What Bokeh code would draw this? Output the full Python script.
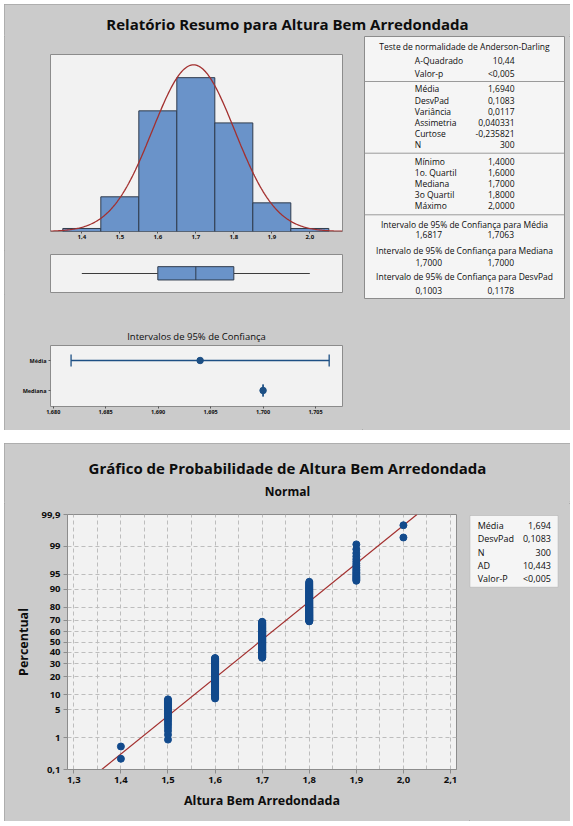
import math
from statistics import NormalDist
import numpy as np
from bokeh.plotting import figure
from bokeh.layouts import column, row
from bokeh.models import (Range1d, FixedTicker, CustomJSTickFormatter, Span,
                          ColumnDataSource, Whisker, TeeHead, Spacer, Title, BoxAnnotation)
from bokeh.core.properties import value
from bokeh.embed import file_html
from bokeh.resources import INLINE

# ---------------- data ----------------
values = [1.4, 1.5, 1.6, 1.7, 1.8, 1.9, 2.0]
counts = [2, 23, 80, 102, 72, 19, 2]
bin_width = 0.1
mean = 1.694
stdev = 0.1083
box_stats = [1.4, 1.6, 1.7, 1.8, 2.0]  # min, Q1, median, Q3, max
ci_names = ["Média", "Mediana"]
ci_centers = [1.6940, 1.7000]
ci_lower = [1.6817, 1.7000]
ci_upper = [1.7063, 1.7000]

hist_ticks = [1.4, 1.5, 1.6, 1.7, 1.8, 1.9, 2.0]
ci_ticks = [1.680, 1.685, 1.690, 1.695, 1.700, 1.705]
prob_x_ticks = [1.3, 1.4, 1.5, 1.6, 1.7, 1.8, 1.9, 2.0, 2.1]
prob_pct_ticks = [0.1, 1, 5, 10, 20, 30, 40, 50, 60, 70, 80, 90, 95, 99, 99.9]
prob_pct_labels = ["0,1", "1", "5", "10", "20", "30", "40", "50", "60", "70",
                   "80", "90", "95", "99", "99,9"]

title_top = "Relatório Resumo para Altura Bem Arredondada"
title_bottom = "Gráfico de Probabilidade de Altura Bem Arredondada"
subtitle_bottom = "Normal"
ci_title = "Intervalos de 95% de Confiança"
x_label = "Altura Bem Arredondada"
y_label = "Percentual"

ad_header = "Teste de normalidade de Anderson-Darling"
ad_labels = ["A-Quadrado", "Valor-p"]
ad_values = ["10,44", "<0,005"]
desc_labels = ["Média", "DesvPad", "Variância", "Assimetria", "Curtose", "N"]
desc_values = ["1,6940", "0,1083", "0,0117", "0,040331", "-0,235821", "300"]
quart_labels = ["Mínimo", "1o. Quartil", "Mediana", "3o Quartil", "Máximo"]
quart_values = ["1,4000", "1,6000", "1,7000", "1,8000", "2,0000"]
ci_headers = ["Intervalo de 95% de Confiança para Média",
              "Intervalo de 95% de Confiança para Mediana",
              "Intervalo de 95% de Confiança para DesvPad"]
ci_low_txt = ["1,6817", "1,7000", "0,1003"]
ci_high_txt = ["1,7063", "1,7000", "0,1178"]

legend_labels = ["Média", "DesvPad", "N", "AD", "Valor-P"]
legend_values = ["1,694", "0,1083", "300", "10,443", "<0,005"]

# ---------------- styles ----------------
FONT = "Open Sans"
PANEL = "#cbcbcb"
FRAME_BG = "#f2f2f2"
TABLE_BG = "#f5f5f5"
OUTLINE = "#8c8c8c"
BAR = "#6a93c9"
BAR_LINE = "#2f3b4c"
CURVE = "#a3302f"
CI_COLOR = "#1d4f84"
DOT = "#124a8c"
TXT = "#0d0d0d"
W = 566


def fig(w, h, xr, yr, l=0, r=0, t=0, b=0, axes=False, bg=FRAME_BG, outline=OUTLINE):
    kw = {}
    if not axes:
        kw = dict(x_axis_location=None, y_axis_location=None)
    p = figure(width=w, height=h, x_range=xr, y_range=yr, toolbar_location=None,
               output_backend="svg", title=None, title_location=None,
               min_border_left=l, min_border_right=r,
               min_border_top=t, min_border_bottom=b, **kw)
    p.border_fill_color = PANEL
    p.background_fill_color = bg
    p.outline_line_color = outline
    p.xgrid.visible = False
    p.ygrid.visible = False
    return p


def style_axis(ax, size, bold=False):
    ax.major_label_text_font = FONT
    ax.major_label_text_font_size = size
    ax.major_label_text_font_style = "bold" if bold else "normal"
    ax.major_label_text_color = TXT
    ax.axis_line_color = None
    ax.major_tick_line_color = "#555555"
    ax.minor_tick_line_color = None
    ax.major_tick_in = 0


def heading(text, size, standoff):
    return Title(text=text, align="center", text_font=FONT, text_font_size=size,
                 text_font_style="bold", text_color=TXT, standoff=standoff)


comma1 = CustomJSTickFormatter(code="return tick.toFixed(1).replace('.', ',')")
PANEL_STYLE = {"background-color": PANEL, "outline": "1px solid #a4a4a4",
               "outline-offset": "-1px"}

# ---------------- top panel ----------------
t1 = fig(W, 32, Range1d(0, 1), Range1d(0, 1), t=30, bg=PANEL, outline=None)
t1.add_layout(heading(title_top, "15px", 1), "above")

# histogram
hx0, hx1 = 1.3176, 2.086
peak = sum(counts) * bin_width / (stdev * math.sqrt(2 * math.pi))
hist = fig(358, 214, Range1d(hx0, hx1), Range1d(0, peak * 1.062), l=46, r=20, t=18, b=19, axes=True)
hist.yaxis.visible = False
lefts = [v - bin_width / 2 for v in values]
rights = [v + bin_width / 2 for v in values]
hist.quad(left=lefts, right=rights, bottom=0, top=counts, fill_color=BAR,
          line_color=BAR_LINE, line_width=1)
xs = np.linspace(hx0, hx1, 300)
ys = sum(counts) * bin_width * np.exp(-0.5 * ((xs - mean) / stdev) ** 2) / (stdev * math.sqrt(2 * math.pi))
hist.line(xs, ys, line_color=CURVE, line_width=1.3)
hist.xaxis.ticker = FixedTicker(ticks=hist_ticks)
hist.xaxis.formatter = comma1
style_axis(hist.xaxis[0], "6px", bold=True)
hist.xaxis.major_tick_out = 2
hist.xaxis.major_label_standoff = 1

# boxplot
boxf = fig(358, 44, Range1d(hx0, hx1), Range1d(0, 1), l=46, r=20, t=4, b=2)
bmin, bq1, bmed, bq3, bmax = box_stats
boxf.segment(x0=[bmin, bq3], y0=[0.5, 0.5], x1=[bq1, bmax], y1=[0.5, 0.5],
             line_color="#3c3c3c", line_width=1)
boxf.quad(left=[bq1], right=[bq3], bottom=[0.33], top=[0.68], fill_color=BAR,
          line_color=BAR_LINE, line_width=1)
boxf.segment(x0=[bmed], y0=[0.33], x1=[bmed], y1=[0.68], line_color=BAR_LINE, line_width=1)

# confidence intervals
ci = fig(358, 136, Range1d(1.67974, 1.70757), Range1d(0.467, 2.5), l=46, r=20, t=51, b=24, axes=True)
ci.add_layout(Title(text=ci_title, align="center", text_font=FONT, text_font_size="9.5px",
                    text_font_style="normal", text_color=TXT, standoff=5), "above")
ci_y = [len(ci_names) - i for i in range(len(ci_names))]
ci_src = ColumnDataSource(dict(base=ci_y, lower=ci_lower, upper=ci_upper))
ci.add_layout(Whisker(source=ci_src, base="base", lower="lower", upper="upper",
                      dimension="width", line_color=CI_COLOR, line_width=1.3,
                      upper_head=TeeHead(size=12, line_color=CI_COLOR, line_width=1.3),
                      lower_head=TeeHead(size=12, line_color=CI_COLOR, line_width=1.3)))
ci.scatter(ci_centers, ci_y, size=6.5, color=CI_COLOR)
ci.xaxis.ticker = FixedTicker(ticks=ci_ticks)
ci.xaxis.formatter = CustomJSTickFormatter(code="return tick.toFixed(3).replace('.', ',')")
style_axis(ci.xaxis[0], "5.5px", bold=True)
ci.xaxis.major_tick_out = 2
ci.xaxis.major_label_standoff = 1
ci.yaxis.ticker = FixedTicker(ticks=ci_y)
ci.yaxis.formatter = CustomJSTickFormatter(args=dict(names=ci_names, pos=ci_y),
                                           code="const i = pos.indexOf(tick); return i >= 0 ? names[i] : '';")
style_axis(ci.yaxis[0], "5.5px", bold=True)
ci.yaxis.major_tick_out = 2
ci.yaxis.major_label_standoff = 2

# summary table
TW, TH = 200, 262
tab = fig(208, 394, Range1d(0, TW), Range1d(TH, 0), l=2, r=6, t=0, b=132, bg=TABLE_BG)
LBL_X, VAL_X, CI_L_X, CI_R_X = 50.3, 150, 51, 123
ad_y = [24.3 + 13 * i for i in range(len(ad_labels))]
desc_y = [52.3 + 11.2 * i for i in range(len(desc_labels))]
quart_y = [124.7 + 11.15 * i for i in range(len(quart_labels))]
lab_src = ColumnDataSource(dict(x=[LBL_X] * (len(ad_labels) + len(desc_labels) + len(quart_labels)),
                                y=ad_y + desc_y + quart_y,
                                t=ad_labels + desc_labels + quart_labels))
val_src = ColumnDataSource(dict(x=[VAL_X] * (len(ad_values) + len(desc_values) + len(quart_values)),
                                y=ad_y + desc_y + quart_y,
                                t=ad_values + desc_values + quart_values))
tfont = dict(text_font=value(FONT), text_font_size=value("8.5px"), text_color=TXT,
             text_baseline="middle")
tab.text(x="x", y="y", text="t", source=lab_src, text_align="left", **tfont)
tab.text(x="x", y="y", text="t", source=val_src, text_align="right", **tfont)
hdr_y = [10] + [187.7 + 26 * i for i in range(len(ci_headers))]
tab.text(x=[TW / 2] * len(hdr_y), y=hdr_y, text=[ad_header] + ci_headers,
         text_align="center", **tfont)
civ_y = [198.3 + 28 * i for i in range(len(ci_low_txt))]
tab.text(x=[CI_L_X] * len(civ_y), y=civ_y, text=ci_low_txt, text_align="left", **tfont)
tab.text(x=[CI_R_X] * len(civ_y), y=civ_y, text=ci_high_txt, text_align="left", **tfont)
for sy in [45, 116.7, 178.3]:
    tab.add_layout(Span(location=sy, dimension="width", line_color="#9a9a9a", line_width=1))

top_panel = column(t1, row(column(hist, boxf, ci), tab), styles=PANEL_STYLE)

# ---------------- bottom panel ----------------
t2 = fig(W, 60, Range1d(0, 1), Range1d(0, 1), t=58, bg=PANEL, outline=None)
t2.add_layout(heading(subtitle_bottom, "12px", 4), "above")
t2.add_layout(heading(title_bottom, "15px", 1), "above")

nd = NormalDist()
z_ticks = [nd.inv_cdf(pc / 100.0) for pc in prob_pct_ticks]
prob = fig(465, 318, Range1d(1.2866, 2.1127), Range1d(z_ticks[0], z_ticks[-1]),
           l=63, r=13, t=11, b=52, axes=True)
grid_x = sorted(set([round(v, 2) for v in prob_x_ticks] +
                    [round((a + b) / 2, 3) for a, b in zip(prob_x_ticks[:-1], prob_x_ticks[1:])]))
prob.xgrid.visible = True
prob.ygrid.visible = True
prob.xgrid.ticker = FixedTicker(ticks=grid_x)
prob.ygrid.ticker = FixedTicker(ticks=z_ticks)
for g in (prob.xgrid[0], prob.ygrid[0]):
    g.grid_line_color = "#bdbdbd"
    g.grid_line_dash = "4 3"
    g.grid_line_width = 1

sorted_vals = np.repeat(values, counts)
n = len(sorted_vals)
ranks = np.arange(1, n + 1)
zs = [nd.inv_cdf((i - 0.3) / (n + 0.4)) for i in ranks]
zl = np.array([z_ticks[0], z_ticks[-1]])
prob.line(mean + stdev * zl, zl, line_color=CURVE, line_width=1.2)
prob.scatter(sorted_vals, zs, size=7, color=DOT)

prob.xaxis.ticker = FixedTicker(ticks=prob_x_ticks)
prob.xaxis.formatter = comma1
prob.yaxis.ticker = FixedTicker(ticks=z_ticks)
prob.yaxis.formatter = CustomJSTickFormatter(
    args=dict(zs=z_ticks, labels=prob_pct_labels),
    code="for (let i = 0; i < zs.length; i++) { if (Math.abs(zs[i] - tick) < 1e-6) return labels[i]; } return '';")
for ax in (prob.xaxis[0], prob.yaxis[0]):
    style_axis(ax, "9.5px", bold=True)
    ax.axis_line_color = OUTLINE
    ax.major_tick_line_color = OUTLINE
    ax.major_tick_out = 4
    ax.major_label_standoff = 3
    ax.axis_label_text_font = FONT
    ax.axis_label_text_font_size = "12.5px"
    ax.axis_label_text_font_style = "bold"
    ax.axis_label_text_color = TXT
    ax.axis_label_standoff = 6
prob.xaxis.axis_label = x_label
prob.yaxis.axis_label = y_label

# legend box (same top/bottom borders as the probability plot so frames align)
LW, LH = 88, 72
leg = fig(101, 318, Range1d(-0.5, LW + 0.5), Range1d(255, -1), l=0, r=12, t=11, b=52,
          bg=PANEL, outline=None)
leg.add_layout(BoxAnnotation(left=0, right=LW, top=0, bottom=LH, fill_color=TABLE_BG,
                             fill_alpha=1, line_color=OUTLINE, line_width=1, level="underlay"))
leg_y = [10.3 + 13.25 * i for i in range(len(legend_labels))]
lfont = dict(text_font=value(FONT), text_font_size=value("9px"), text_color=TXT,
             text_baseline="middle")
leg.text(x=[7.7] * len(leg_y), y=leg_y, text=legend_labels, text_align="left", **lfont)
leg.text(x=[81] * len(leg_y), y=leg_y, text=legend_values, text_align="right", **lfont)

bottom_panel = column(t2, row(prob, leg), styles=PANEL_STYLE)

layout = column(Spacer(width=570, height=4),
                row(Spacer(width=4, height=426), top_panel),
                Spacer(width=570, height=13),
                row(Spacer(width=4, height=378), bottom_panel))

with open("out.html", "w") as f:
    f.write(file_html(layout, INLINE))
